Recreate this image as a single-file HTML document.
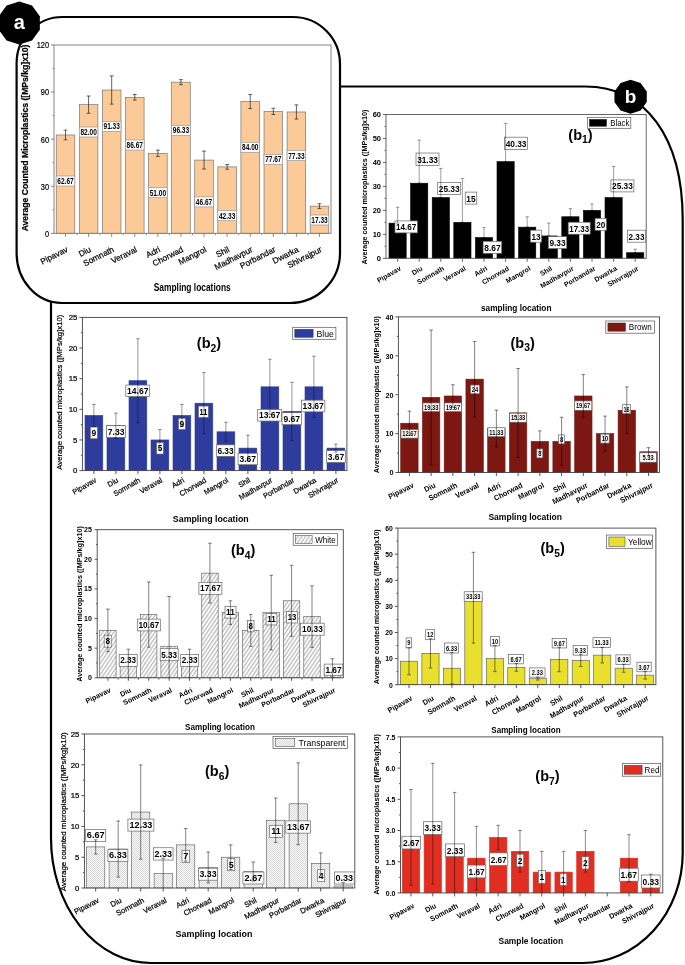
<!DOCTYPE html>
<html lang="en"><head><meta charset="utf-8"><title>Microplastics by sampling location</title>
<style>html,body{margin:0;padding:0;background:#fff}svg{display:block}text{font-family:"Liberation Sans",sans-serif}</style>
</head><body>
<svg width="685" height="965" viewBox="0 0 685 965" font-family="'Liberation Sans', sans-serif">
<defs>
<pattern id="hatch" patternUnits="userSpaceOnUse" width="3.1" height="3.1" patternTransform="rotate(-56)"><rect width="3.1" height="3.1" fill="#fff"/><path d="M0 1.5H3.1" stroke="#707070" stroke-width="0.6"/></pattern>
<pattern id="dots" patternUnits="userSpaceOnUse" width="2" height="2"><rect width="2" height="2" fill="#f8f8f8"/><rect width="1" height="1" fill="#dadada"/><rect x="1" y="1" width="1" height="1" fill="#dadada"/></pattern>
</defs>
<rect width="685" height="965" fill="#fff"/>
<path d="M340 86.5H585C645.5 86.5 682.7 137.2 682.7 220V853A100 110 0 0 1 582.7 963H151A100 125 0 0 1 51 838V302" fill="none" stroke="#000" stroke-width="2.2"/>
<path d="M62.6 17H293A47 47 0 0 1 340 64V253A50 50 0 0 1 290 303H61.6A45 50 0 0 1 16.6 253V63A46 46 0 0 1 62.6 17Z" fill="#fff" stroke="#000" stroke-width="2.2"/>
<g id="pa">
<clipPath id="clip-pa"><rect x="54" y="45" width="277" height="188.8"/></clipPath>
<g clip-path="url(#clip-pa)">
<rect x="56.20" y="134.96" width="18.60" height="98.34" fill="#fbca98" stroke="#666" stroke-width="0.6"/>
<rect x="79.29" y="104.63" width="18.60" height="128.67" fill="#fbca98" stroke="#666" stroke-width="0.6"/>
<rect x="102.38" y="89.99" width="18.60" height="143.31" fill="#fbca98" stroke="#666" stroke-width="0.6"/>
<rect x="125.47" y="97.30" width="18.60" height="136.00" fill="#fbca98" stroke="#666" stroke-width="0.6"/>
<rect x="148.56" y="153.27" width="18.60" height="80.03" fill="#fbca98" stroke="#666" stroke-width="0.6"/>
<rect x="171.65" y="82.14" width="18.60" height="151.16" fill="#fbca98" stroke="#666" stroke-width="0.6"/>
<rect x="194.74" y="160.07" width="18.60" height="73.23" fill="#fbca98" stroke="#666" stroke-width="0.6"/>
<rect x="217.83" y="166.88" width="18.60" height="66.42" fill="#fbca98" stroke="#666" stroke-width="0.6"/>
<rect x="240.92" y="101.49" width="18.60" height="131.81" fill="#fbca98" stroke="#666" stroke-width="0.6"/>
<rect x="264.01" y="111.42" width="18.60" height="121.88" fill="#fbca98" stroke="#666" stroke-width="0.6"/>
<rect x="287.10" y="111.96" width="18.60" height="121.34" fill="#fbca98" stroke="#666" stroke-width="0.6"/>
<rect x="310.19" y="206.11" width="18.60" height="27.19" fill="#fbca98" stroke="#666" stroke-width="0.6"/>
</g>
<rect x="54" y="45" width="277" height="188.3" fill="none" stroke="#777" stroke-width="0.9"/>
<path d="M51 233.30h3M51 186.23h3M51 139.15h3M51 92.07h3M51 45.00h3M52.5 209.76h1.5M52.5 162.69h1.5M52.5 115.61h1.5M52.5 68.54h1.5M65.50 233.3v3.5M88.59 233.3v3.5M111.68 233.3v3.5M134.77 233.3v3.5M157.86 233.3v3.5M180.95 233.3v3.5M204.04 233.3v3.5M227.13 233.3v3.5M250.22 233.3v3.5M273.31 233.3v3.5M296.40 233.3v3.5M319.49 233.3v3.5M77.05 233.3v1.8M100.13 233.3v1.8M123.22 233.3v1.8M146.31 233.3v1.8M169.41 233.3v1.8M192.50 233.3v1.8M215.59 233.3v1.8M238.68 233.3v1.8M261.76 233.3v1.8M284.86 233.3v1.8M307.94 233.3v1.8" stroke="#777" stroke-width="0.9" fill="none"/>
<text transform="translate(49.00 236.72) scale(0.7800 1)" font-size="9.5" text-anchor="end" stroke="#000" stroke-width="0.22">0</text>
<text transform="translate(49.00 189.65) scale(0.7800 1)" font-size="9.5" text-anchor="end" stroke="#000" stroke-width="0.22">30</text>
<text transform="translate(49.00 142.57) scale(0.7800 1)" font-size="9.5" text-anchor="end" stroke="#000" stroke-width="0.22">60</text>
<text transform="translate(49.00 95.49) scale(0.7800 1)" font-size="9.5" text-anchor="end" stroke="#000" stroke-width="0.22">90</text>
<text transform="translate(49.00 48.42) scale(0.7800 1)" font-size="9.5" text-anchor="end" stroke="#000" stroke-width="0.22">120</text>
<text transform="translate(68.50 251.30) rotate(-27)" font-size="8.3" text-anchor="end" stroke="#000" stroke-width="0.22">Pipavav</text>
<text transform="translate(91.59 251.30) rotate(-27)" font-size="8.3" text-anchor="end" stroke="#000" stroke-width="0.22">Diu</text>
<text transform="translate(114.68 251.30) rotate(-27)" font-size="8.3" text-anchor="end" stroke="#000" stroke-width="0.22">Somnath</text>
<text transform="translate(137.77 251.30) rotate(-27)" font-size="8.3" text-anchor="end" stroke="#000" stroke-width="0.22">Veraval</text>
<text transform="translate(160.86 251.30) rotate(-27)" font-size="8.3" text-anchor="end" stroke="#000" stroke-width="0.22">Adri</text>
<text transform="translate(183.95 251.30) rotate(-27)" font-size="8.3" text-anchor="end" stroke="#000" stroke-width="0.22">Chorwad</text>
<text transform="translate(207.04 251.30) rotate(-27)" font-size="8.3" text-anchor="end" stroke="#000" stroke-width="0.22">Mangrol</text>
<text transform="translate(230.13 251.30) rotate(-27)" font-size="8.3" text-anchor="end" stroke="#000" stroke-width="0.22">Shil</text>
<text transform="translate(253.22 251.30) rotate(-27)" font-size="8.3" text-anchor="end" stroke="#000" stroke-width="0.22">Madhavpur</text>
<text transform="translate(276.31 251.30) rotate(-27)" font-size="8.3" text-anchor="end" stroke="#000" stroke-width="0.22">Porbandar</text>
<text transform="translate(299.40 251.30) rotate(-27)" font-size="8.3" text-anchor="end" stroke="#000" stroke-width="0.22">Dwarka</text>
<text transform="translate(322.49 251.30) rotate(-27)" font-size="8.3" text-anchor="end" stroke="#000" stroke-width="0.22">Shivrajpur</text>
<rect x="56.20" y="176.00" width="18.60" height="10.00" fill="#fff" stroke="#999" stroke-width="0.7"/>
<text transform="translate(65.50 183.95) scale(0.7993 1)" font-size="8.2" font-weight="bold" text-anchor="middle">62.67</text>
<rect x="79.29" y="127.00" width="18.60" height="10.00" fill="#fff" stroke="#999" stroke-width="0.7"/>
<text transform="translate(88.59 134.95) scale(0.7993 1)" font-size="8.2" font-weight="bold" text-anchor="middle">82.00</text>
<rect x="102.38" y="121.50" width="18.60" height="10.00" fill="#fff" stroke="#999" stroke-width="0.7"/>
<text transform="translate(111.68 129.45) scale(0.7993 1)" font-size="8.2" font-weight="bold" text-anchor="middle">91.33</text>
<rect x="125.47" y="140.00" width="18.60" height="10.00" fill="#fff" stroke="#999" stroke-width="0.7"/>
<text transform="translate(134.77 147.95) scale(0.7993 1)" font-size="8.2" font-weight="bold" text-anchor="middle">86.67</text>
<rect x="148.56" y="187.70" width="18.60" height="10.00" fill="#fff" stroke="#999" stroke-width="0.7"/>
<text transform="translate(157.86 195.65) scale(0.7993 1)" font-size="8.2" font-weight="bold" text-anchor="middle">51.00</text>
<rect x="171.65" y="125.50" width="18.60" height="10.00" fill="#fff" stroke="#999" stroke-width="0.7"/>
<text transform="translate(180.95 133.45) scale(0.7993 1)" font-size="8.2" font-weight="bold" text-anchor="middle">96.33</text>
<rect x="194.74" y="196.90" width="18.60" height="10.00" fill="#fff" stroke="#999" stroke-width="0.7"/>
<text transform="translate(204.04 204.85) scale(0.7993 1)" font-size="8.2" font-weight="bold" text-anchor="middle">46.67</text>
<rect x="217.83" y="210.70" width="18.60" height="10.00" fill="#fff" stroke="#999" stroke-width="0.7"/>
<text transform="translate(227.13 218.65) scale(0.7993 1)" font-size="8.2" font-weight="bold" text-anchor="middle">42.33</text>
<rect x="240.92" y="142.40" width="18.60" height="10.00" fill="#fff" stroke="#999" stroke-width="0.7"/>
<text transform="translate(250.22 150.35) scale(0.7993 1)" font-size="8.2" font-weight="bold" text-anchor="middle">84.00</text>
<rect x="264.01" y="154.50" width="18.60" height="10.00" fill="#fff" stroke="#999" stroke-width="0.7"/>
<text transform="translate(273.31 162.45) scale(0.7993 1)" font-size="8.2" font-weight="bold" text-anchor="middle">77.67</text>
<rect x="287.10" y="150.60" width="18.60" height="10.00" fill="#fff" stroke="#999" stroke-width="0.7"/>
<text transform="translate(296.40 158.55) scale(0.7993 1)" font-size="8.2" font-weight="bold" text-anchor="middle">77.33</text>
<rect x="310.19" y="215.00" width="18.60" height="10.00" fill="#fff" stroke="#999" stroke-width="0.7"/>
<text transform="translate(319.49 222.95) scale(0.7993 1)" font-size="8.2" font-weight="bold" text-anchor="middle">17.33</text>
<g clip-path="url(#clip-pa)">
<path d="M65.50 130.10V139.82M63.60 130.10h3.8M63.60 139.82h3.8" stroke="#222" stroke-width="0.7" fill="none"/>
<path d="M88.59 96.00V113.26M86.69 96.00h3.8M86.69 113.26h3.8" stroke="#222" stroke-width="0.7" fill="none"/>
<path d="M111.68 75.87V104.11M109.78 75.87h3.8M109.78 104.11h3.8" stroke="#222" stroke-width="0.7" fill="none"/>
<path d="M134.77 94.48V100.12M132.87 94.48h3.8M132.87 100.12h3.8" stroke="#222" stroke-width="0.7" fill="none"/>
<path d="M157.86 150.13V156.41M155.96 150.13h3.8M155.96 156.41h3.8" stroke="#222" stroke-width="0.7" fill="none"/>
<path d="M180.95 79.63V84.65M179.05 79.63h3.8M179.05 84.65h3.8" stroke="#222" stroke-width="0.7" fill="none"/>
<path d="M204.04 151.12V169.01M202.14 151.12h3.8M202.14 169.01h3.8" stroke="#222" stroke-width="0.7" fill="none"/>
<path d="M227.13 164.52V169.23M225.23 164.52h3.8M225.23 169.23h3.8" stroke="#222" stroke-width="0.7" fill="none"/>
<path d="M250.22 94.43V108.55M248.32 94.43h3.8M248.32 108.55h3.8" stroke="#222" stroke-width="0.7" fill="none"/>
<path d="M273.31 108.28V114.56M271.41 108.28h3.8M271.41 114.56h3.8" stroke="#222" stroke-width="0.7" fill="none"/>
<path d="M296.40 104.90V119.02M294.50 104.90h3.8M294.50 119.02h3.8" stroke="#222" stroke-width="0.7" fill="none"/>
<path d="M319.49 203.75V208.46M317.59 203.75h3.8M317.59 208.46h3.8" stroke="#222" stroke-width="0.7" fill="none"/>
</g>
<text transform="translate(192.20 291.48) scale(0.7999 1)" font-size="10.5" font-weight="bold" text-anchor="middle">Sampling locations</text>
<text transform="translate(28.26 138.00) rotate(-90) scale(1.0143 1)" font-size="8.5" font-weight="bold" text-anchor="middle" stroke="#000" stroke-width="0.22">Average Counted Microplastics ([MPs/kg]x10)</text>
</g>
<g id="b1">
<clipPath id="clip-b1"><rect x="386" y="114.5" width="260.20000000000005" height="144.3"/></clipPath>
<g clip-path="url(#clip-b1)">
<rect x="389.00" y="223.14" width="17.20" height="35.16" fill="#000" stroke="#000" stroke-width="0.6"/>
<rect x="410.60" y="183.21" width="17.20" height="75.09" fill="#000" stroke="#000" stroke-width="0.6"/>
<rect x="432.20" y="197.59" width="17.20" height="60.71" fill="#000" stroke="#000" stroke-width="0.6"/>
<rect x="453.80" y="222.35" width="17.20" height="35.95" fill="#000" stroke="#000" stroke-width="0.6"/>
<rect x="475.40" y="237.52" width="17.20" height="20.78" fill="#000" stroke="#000" stroke-width="0.6"/>
<rect x="497.00" y="161.64" width="17.20" height="96.66" fill="#000" stroke="#000" stroke-width="0.6"/>
<rect x="518.60" y="227.14" width="17.20" height="31.16" fill="#000" stroke="#000" stroke-width="0.6"/>
<rect x="540.20" y="235.94" width="17.20" height="22.36" fill="#000" stroke="#000" stroke-width="0.6"/>
<rect x="561.80" y="216.77" width="17.20" height="41.53" fill="#000" stroke="#000" stroke-width="0.6"/>
<rect x="583.40" y="210.37" width="17.20" height="47.93" fill="#000" stroke="#000" stroke-width="0.6"/>
<rect x="605.00" y="197.59" width="17.20" height="60.71" fill="#000" stroke="#000" stroke-width="0.6"/>
<rect x="626.60" y="252.72" width="17.20" height="5.58" fill="#000" stroke="#000" stroke-width="0.6"/>
</g>
<rect x="386" y="114.5" width="260.20000000000005" height="143.8" fill="none" stroke="#555" stroke-width="0.9"/>
<path d="M383 258.30h3M383 234.33h3M383 210.37h3M383 186.40h3M383 162.43h3M383 138.47h3M383 114.50h3M384.5 246.32h1.5M384.5 222.35h1.5M384.5 198.38h1.5M384.5 174.42h1.5M384.5 150.45h1.5M384.5 126.48h1.5M397.60 258.3v3.5M419.20 258.3v3.5M440.80 258.3v3.5M462.40 258.3v3.5M484.00 258.3v3.5M505.60 258.3v3.5M527.20 258.3v3.5M548.80 258.3v3.5M570.40 258.3v3.5M592.00 258.3v3.5M613.60 258.3v3.5M635.20 258.3v3.5" stroke="#555" stroke-width="0.9" fill="none"/>
<text transform="translate(381.00 261.00)" font-size="7.5" font-weight="bold" text-anchor="end">0</text>
<text transform="translate(381.00 237.03)" font-size="7.5" font-weight="bold" text-anchor="end">10</text>
<text transform="translate(381.00 213.07)" font-size="7.5" font-weight="bold" text-anchor="end">20</text>
<text transform="translate(381.00 189.10)" font-size="7.5" font-weight="bold" text-anchor="end">30</text>
<text transform="translate(381.00 165.13)" font-size="7.5" font-weight="bold" text-anchor="end">40</text>
<text transform="translate(381.00 141.17)" font-size="7.5" font-weight="bold" text-anchor="end">50</text>
<text transform="translate(381.00 117.20)" font-size="7.5" font-weight="bold" text-anchor="end">60</text>
<text transform="translate(401.60 269.80) rotate(-30)" font-size="7.0" font-weight="bold" text-anchor="end">Pipavav</text>
<text transform="translate(423.20 269.80) rotate(-30)" font-size="7.0" font-weight="bold" text-anchor="end">Diu</text>
<text transform="translate(444.80 269.80) rotate(-30)" font-size="7.0" font-weight="bold" text-anchor="end">Somnath</text>
<text transform="translate(466.40 269.80) rotate(-30)" font-size="7.0" font-weight="bold" text-anchor="end">Veraval</text>
<text transform="translate(488.00 269.80) rotate(-30)" font-size="7.0" font-weight="bold" text-anchor="end">Adri</text>
<text transform="translate(509.60 269.80) rotate(-30)" font-size="7.0" font-weight="bold" text-anchor="end">Chorwad</text>
<text transform="translate(531.20 269.80) rotate(-30)" font-size="7.0" font-weight="bold" text-anchor="end">Mangrol</text>
<text transform="translate(552.80 269.80) rotate(-30)" font-size="7.0" font-weight="bold" text-anchor="end">Shil</text>
<text transform="translate(574.40 269.80) rotate(-30)" font-size="7.0" font-weight="bold" text-anchor="end">Madhavpur</text>
<text transform="translate(596.00 269.80) rotate(-30)" font-size="7.0" font-weight="bold" text-anchor="end">Porbandar</text>
<text transform="translate(617.60 269.80) rotate(-30)" font-size="7.0" font-weight="bold" text-anchor="end">Dwarka</text>
<text transform="translate(639.20 269.80) rotate(-30)" font-size="7.0" font-weight="bold" text-anchor="end">Shivrajpur</text>
<rect x="394.95" y="220.90" width="22.50" height="12.00" fill="#fff" stroke="#666" stroke-width="0.7"/>
<text transform="translate(406.20 230.32) scale(0.8540 1)" font-size="9.5" font-weight="bold" text-anchor="middle">14.67</text>
<rect x="416.00" y="153.05" width="23.00" height="12.30" fill="#fff" stroke="#666" stroke-width="0.7"/>
<text transform="translate(427.50 162.62) scale(0.8750 1)" font-size="9.5" font-weight="bold" text-anchor="middle">31.33</text>
<rect x="437.70" y="182.40" width="23.00" height="12.00" fill="#fff" stroke="#666" stroke-width="0.7"/>
<text transform="translate(449.20 191.82) scale(0.8750 1)" font-size="9.5" font-weight="bold" text-anchor="middle">25.33</text>
<rect x="465.25" y="192.10" width="11.50" height="12.00" fill="#fff" stroke="#666" stroke-width="0.7"/>
<text transform="translate(471.00 201.52) scale(0.8802 1)" font-size="9.5" font-weight="bold" text-anchor="middle">15</text>
<rect x="483.10" y="241.30" width="18.60" height="12.00" fill="#fff" stroke="#666" stroke-width="0.7"/>
<text transform="translate(492.40 250.72) scale(0.8871 1)" font-size="9.5" font-weight="bold" text-anchor="middle">8.67</text>
<rect x="504.60" y="137.20" width="23.00" height="12.20" fill="#fff" stroke="#666" stroke-width="0.7"/>
<text transform="translate(516.10 146.72) scale(0.8750 1)" font-size="9.5" font-weight="bold" text-anchor="middle">40.33</text>
<rect x="530.35" y="230.20" width="11.30" height="12.00" fill="#fff" stroke="#666" stroke-width="0.7"/>
<text transform="translate(536.00 239.62) scale(0.8613 1)" font-size="9.5" font-weight="bold" text-anchor="middle">13</text>
<rect x="548.30" y="236.60" width="18.40" height="12.00" fill="#fff" stroke="#666" stroke-width="0.7"/>
<text transform="translate(557.50 246.02) scale(0.8762 1)" font-size="9.5" font-weight="bold" text-anchor="middle">9.33</text>
<rect x="568.20" y="222.20" width="22.00" height="12.00" fill="#fff" stroke="#666" stroke-width="0.7"/>
<text transform="translate(579.20 231.62) scale(0.8330 1)" font-size="9.5" font-weight="bold" text-anchor="middle">17.33</text>
<rect x="595.05" y="218.30" width="11.30" height="12.00" fill="#fff" stroke="#666" stroke-width="0.7"/>
<text transform="translate(600.70 227.72) scale(0.8613 1)" font-size="9.5" font-weight="bold" text-anchor="middle">20</text>
<rect x="610.90" y="179.90" width="23.00" height="12.00" fill="#fff" stroke="#666" stroke-width="0.7"/>
<text transform="translate(622.40 189.32) scale(0.8750 1)" font-size="9.5" font-weight="bold" text-anchor="middle">25.33</text>
<rect x="627.50" y="230.20" width="18.00" height="12.00" fill="#fff" stroke="#666" stroke-width="0.7"/>
<text transform="translate(636.50 239.62) scale(0.8546 1)" font-size="9.5" font-weight="bold" text-anchor="middle">2.33</text>
<g clip-path="url(#clip-b1)">
<path d="M397.60 207.25V223.14M395.80 207.25h3.6M395.80 223.14h3.6" stroke="#000" stroke-width="0.7" fill="none" stroke-opacity="0.55"/>
<path d="M419.20 140.14V183.21M417.40 140.14h3.6M417.40 183.21h3.6" stroke="#000" stroke-width="0.7" fill="none" stroke-opacity="0.55"/>
<path d="M440.80 168.43V197.59M439.00 168.43h3.6M439.00 197.59h3.6" stroke="#000" stroke-width="0.7" fill="none" stroke-opacity="0.55"/>
<path d="M462.40 178.49V222.35M460.60 178.49h3.6M460.60 222.35h3.6" stroke="#000" stroke-width="0.7" fill="none" stroke-opacity="0.55"/>
<path d="M484.00 227.62V237.52M482.20 227.62h3.6M482.20 237.52h3.6" stroke="#000" stroke-width="0.7" fill="none" stroke-opacity="0.55"/>
<path d="M505.60 123.37V161.64M503.80 123.37h3.6M503.80 161.64h3.6" stroke="#000" stroke-width="0.7" fill="none" stroke-opacity="0.55"/>
<path d="M527.20 216.84V227.14M525.40 216.84h3.6M525.40 227.14h3.6" stroke="#000" stroke-width="0.7" fill="none" stroke-opacity="0.55"/>
<path d="M548.80 223.07V235.94M547.00 223.07h3.6M547.00 235.94h3.6" stroke="#000" stroke-width="0.7" fill="none" stroke-opacity="0.55"/>
<path d="M570.40 208.69V216.77M568.60 208.69h3.6M568.60 216.77h3.6" stroke="#000" stroke-width="0.7" fill="none" stroke-opacity="0.55"/>
<path d="M592.00 203.90V210.37M590.20 203.90h3.6M590.20 210.37h3.6" stroke="#000" stroke-width="0.7" fill="none" stroke-opacity="0.55"/>
<path d="M613.60 166.51V197.59M611.80 166.51h3.6M611.80 197.59h3.6" stroke="#000" stroke-width="0.7" fill="none" stroke-opacity="0.55"/>
<path d="M635.20 249.19V252.72M633.40 249.19h3.6M633.40 252.72h3.6" stroke="#000" stroke-width="0.7" fill="none" stroke-opacity="0.55"/>
</g>
<rect x="587.4" y="117.3" width="43.40" height="11.00" fill="#fff" stroke="#555" stroke-width="0.7"/>
<rect x="589.3" y="119.3" width="17.30" height="7.00" fill="#000" stroke="#333" stroke-width="0.5"/>
<text transform="translate(610.20 125.90) scale(0.9130 1)" font-size="8.6">Black</text>
<text x="568.3" y="139.5" font-size="14.5" font-weight="bold">(b<tspan font-size="10.3" dy="3.7">1</tspan><tspan dy="-3.7">)</tspan></text>
<text transform="translate(516.20 311.17) scale(0.9452 1)" font-size="8.8" font-weight="bold" text-anchor="middle">sampling location</text>
<text transform="translate(366.99 187.00) rotate(-90) scale(0.9976 1)" font-size="7.2" font-weight="bold" text-anchor="middle">Average counted microplastics ([MPs/kg]x10)</text>
</g>
<g id="b2">
<clipPath id="clip-b2"><rect x="82.4" y="317.4" width="264.5" height="153.70000000000005"/></clipPath>
<g clip-path="url(#clip-b2)">
<rect x="85.00" y="415.45" width="17.80" height="55.15" fill="#2e3c9e" stroke="#2e3c9e" stroke-width="0.6"/>
<rect x="107.00" y="425.68" width="17.80" height="44.92" fill="#2e3c9e" stroke="#2e3c9e" stroke-width="0.6"/>
<rect x="129.00" y="380.70" width="17.80" height="89.90" fill="#2e3c9e" stroke="#2e3c9e" stroke-width="0.6"/>
<rect x="151.00" y="439.96" width="17.80" height="30.64" fill="#2e3c9e" stroke="#2e3c9e" stroke-width="0.6"/>
<rect x="173.00" y="415.45" width="17.80" height="55.15" fill="#2e3c9e" stroke="#2e3c9e" stroke-width="0.6"/>
<rect x="195.00" y="403.19" width="17.80" height="67.41" fill="#2e3c9e" stroke="#2e3c9e" stroke-width="0.6"/>
<rect x="217.00" y="431.81" width="17.80" height="38.79" fill="#2e3c9e" stroke="#2e3c9e" stroke-width="0.6"/>
<rect x="239.00" y="448.11" width="17.80" height="22.49" fill="#2e3c9e" stroke="#2e3c9e" stroke-width="0.6"/>
<rect x="261.00" y="386.83" width="17.80" height="83.77" fill="#2e3c9e" stroke="#2e3c9e" stroke-width="0.6"/>
<rect x="283.00" y="411.34" width="17.80" height="59.26" fill="#2e3c9e" stroke="#2e3c9e" stroke-width="0.6"/>
<rect x="305.00" y="386.83" width="17.80" height="83.77" fill="#2e3c9e" stroke="#2e3c9e" stroke-width="0.6"/>
<rect x="327.00" y="448.11" width="17.80" height="22.49" fill="#2e3c9e" stroke="#2e3c9e" stroke-width="0.6"/>
</g>
<rect x="82.4" y="317.4" width="264.5" height="153.20000000000005" fill="none" stroke="#444" stroke-width="0.9"/>
<path d="M79.4 470.60h3M79.4 439.96h3M79.4 409.32h3M79.4 378.68h3M79.4 348.04h3M79.4 317.40h3M80.9 455.28h1.5M80.9 424.64h1.5M80.9 394.00h1.5M80.9 363.36h1.5M80.9 332.72h1.5M93.90 470.6v3.5M115.90 470.6v3.5M137.90 470.6v3.5M159.90 470.6v3.5M181.90 470.6v3.5M203.90 470.6v3.5M225.90 470.6v3.5M247.90 470.6v3.5M269.90 470.6v3.5M291.90 470.6v3.5M313.90 470.6v3.5M335.90 470.6v3.5" stroke="#444" stroke-width="0.9" fill="none"/>
<text transform="translate(77.40 473.41)" font-size="7.8" text-anchor="end" stroke="#000" stroke-width="0.22">0</text>
<text transform="translate(77.40 442.77)" font-size="7.8" text-anchor="end" stroke="#000" stroke-width="0.22">5</text>
<text transform="translate(77.40 412.13)" font-size="7.8" text-anchor="end" stroke="#000" stroke-width="0.22">10</text>
<text transform="translate(77.40 381.49)" font-size="7.8" text-anchor="end" stroke="#000" stroke-width="0.22">15</text>
<text transform="translate(77.40 350.85)" font-size="7.8" text-anchor="end" stroke="#000" stroke-width="0.22">20</text>
<text transform="translate(77.40 320.21)" font-size="7.8" text-anchor="end" stroke="#000" stroke-width="0.22">25</text>
<text transform="translate(96.90 481.60) rotate(-30)" font-size="7.4" text-anchor="end" stroke="#000" stroke-width="0.22">Pipavav</text>
<text transform="translate(118.90 481.60) rotate(-30)" font-size="7.4" text-anchor="end" stroke="#000" stroke-width="0.22">Diu</text>
<text transform="translate(140.90 481.60) rotate(-30)" font-size="7.4" text-anchor="end" stroke="#000" stroke-width="0.22">Somnath</text>
<text transform="translate(162.90 481.60) rotate(-30)" font-size="7.4" text-anchor="end" stroke="#000" stroke-width="0.22">Veraval</text>
<text transform="translate(184.90 481.60) rotate(-30)" font-size="7.4" text-anchor="end" stroke="#000" stroke-width="0.22">Adri</text>
<text transform="translate(206.90 481.60) rotate(-30)" font-size="7.4" text-anchor="end" stroke="#000" stroke-width="0.22">Chorwad</text>
<text transform="translate(228.90 481.60) rotate(-30)" font-size="7.4" text-anchor="end" stroke="#000" stroke-width="0.22">Mangrol</text>
<text transform="translate(250.90 481.60) rotate(-30)" font-size="7.4" text-anchor="end" stroke="#000" stroke-width="0.22">Shil</text>
<text transform="translate(272.90 481.60) rotate(-30)" font-size="7.4" text-anchor="end" stroke="#000" stroke-width="0.22">Madhavpur</text>
<text transform="translate(294.90 481.60) rotate(-30)" font-size="7.4" text-anchor="end" stroke="#000" stroke-width="0.22">Porbandar</text>
<text transform="translate(316.90 481.60) rotate(-30)" font-size="7.4" text-anchor="end" stroke="#000" stroke-width="0.22">Dwarka</text>
<text transform="translate(338.90 481.60) rotate(-30)" font-size="7.4" text-anchor="end" stroke="#000" stroke-width="0.22">Shivrajpur</text>
<rect x="90.30" y="427.05" width="7.20" height="11.70" fill="#fff" stroke="#666" stroke-width="0.7"/>
<text transform="translate(93.90 436.07) scale(0.9700 1)" font-size="8.8" font-weight="bold" text-anchor="middle">9</text>
<rect x="106.60" y="425.70" width="19.00" height="11.80" fill="#fff" stroke="#666" stroke-width="0.7"/>
<text transform="translate(116.10 434.77) scale(0.9700 1)" font-size="8.8" font-weight="bold" text-anchor="middle">7.33</text>
<rect x="125.80" y="385.05" width="23.80" height="11.50" fill="#fff" stroke="#666" stroke-width="0.7"/>
<text transform="translate(137.70 393.97) scale(0.9700 1)" font-size="8.8" font-weight="bold" text-anchor="middle">14.67</text>
<rect x="156.60" y="442.55" width="6.80" height="11.50" fill="#fff" stroke="#666" stroke-width="0.7"/>
<text transform="translate(160.00 451.47) scale(0.9400 1)" font-size="8.8" font-weight="bold" text-anchor="middle">5</text>
<rect x="178.40" y="418.25" width="7.00" height="11.30" fill="#fff" stroke="#666" stroke-width="0.7"/>
<text transform="translate(181.90 427.07) scale(0.9700 1)" font-size="8.8" font-weight="bold" text-anchor="middle">9</text>
<rect x="198.40" y="406.05" width="10.00" height="11.50" fill="#fff" stroke="#666" stroke-width="0.7"/>
<text transform="translate(203.40 414.97) scale(0.8385 1)" font-size="8.8" font-weight="bold" text-anchor="middle">11</text>
<rect x="216.30" y="444.85" width="18.40" height="11.50" fill="#fff" stroke="#666" stroke-width="0.7"/>
<text transform="translate(225.50 453.77) scale(0.9460 1)" font-size="8.8" font-weight="bold" text-anchor="middle">6.33</text>
<rect x="238.05" y="453.25" width="19.30" height="11.50" fill="#fff" stroke="#666" stroke-width="0.7"/>
<text transform="translate(247.70 462.17) scale(0.9700 1)" font-size="8.8" font-weight="bold" text-anchor="middle">3.67</text>
<rect x="257.70" y="409.35" width="23.80" height="11.70" fill="#fff" stroke="#666" stroke-width="0.7"/>
<text transform="translate(269.60 418.37) scale(0.9700 1)" font-size="8.8" font-weight="bold" text-anchor="middle">13.67</text>
<rect x="282.00" y="412.70" width="19.40" height="12.00" fill="#fff" stroke="#666" stroke-width="0.7"/>
<text transform="translate(291.70 421.87) scale(0.9700 1)" font-size="8.8" font-weight="bold" text-anchor="middle">9.67</text>
<rect x="301.35" y="400.15" width="23.50" height="11.70" fill="#fff" stroke="#666" stroke-width="0.7"/>
<text transform="translate(313.10 409.17) scale(0.9673 1)" font-size="8.8" font-weight="bold" text-anchor="middle">13.67</text>
<rect x="326.70" y="450.50" width="18.60" height="12.00" fill="#fff" stroke="#666" stroke-width="0.7"/>
<text transform="translate(336.00 459.67) scale(0.9576 1)" font-size="8.8" font-weight="bold" text-anchor="middle">3.67</text>
<g clip-path="url(#clip-b2)">
<path d="M93.90 404.42V426.48M92.10 404.42h3.6M92.10 426.48h3.6" stroke="#000" stroke-width="0.7" fill="none" stroke-opacity="0.6"/>
<path d="M115.90 413.12V438.24M114.10 413.12h3.6M114.10 438.24h3.6" stroke="#000" stroke-width="0.7" fill="none" stroke-opacity="0.6"/>
<path d="M137.90 338.73V422.68M136.10 338.73h3.6M136.10 422.68h3.6" stroke="#000" stroke-width="0.7" fill="none" stroke-opacity="0.6"/>
<path d="M159.90 429.54V450.38M158.10 429.54h3.6M158.10 450.38h3.6" stroke="#000" stroke-width="0.7" fill="none" stroke-opacity="0.6"/>
<path d="M181.90 404.42V426.48M180.10 404.42h3.6M180.10 426.48h3.6" stroke="#000" stroke-width="0.7" fill="none" stroke-opacity="0.6"/>
<path d="M203.90 372.55V433.83M202.10 372.55h3.6M202.10 433.83h3.6" stroke="#000" stroke-width="0.7" fill="none" stroke-opacity="0.6"/>
<path d="M225.90 422.31V441.31M224.10 422.31h3.6M224.10 441.31h3.6" stroke="#000" stroke-width="0.7" fill="none" stroke-opacity="0.6"/>
<path d="M247.90 435.24V460.98M246.10 435.24h3.6M246.10 460.98h3.6" stroke="#000" stroke-width="0.7" fill="none" stroke-opacity="0.6"/>
<path d="M269.90 359.25V414.41M268.10 359.25h3.6M268.10 414.41h3.6" stroke="#000" stroke-width="0.7" fill="none" stroke-opacity="0.6"/>
<path d="M291.90 382.23V440.45M290.10 382.23h3.6M290.10 440.45h3.6" stroke="#000" stroke-width="0.7" fill="none" stroke-opacity="0.6"/>
<path d="M313.90 356.19V417.47M312.10 356.19h3.6M312.10 417.47h3.6" stroke="#000" stroke-width="0.7" fill="none" stroke-opacity="0.6"/>
<path d="M335.90 444.13V452.09M334.10 444.13h3.6M334.10 452.09h3.6" stroke="#000" stroke-width="0.7" fill="none" stroke-opacity="0.6"/>
</g>
<rect x="292.7" y="327.3" width="43.20" height="12.00" fill="#fff" stroke="#555" stroke-width="0.7"/>
<rect x="294.8" y="329.3" width="18.30" height="8.00" fill="#2e3c9e" stroke="#333" stroke-width="0.5"/>
<text transform="translate(316.50 336.61) scale(0.9450 1)" font-size="9.2">Blue</text>
<text x="196.8" y="348.3" font-size="14.5" font-weight="bold">(b<tspan font-size="10.3" dy="3.7">2</tspan><tspan dy="-3.7">)</tspan></text>
<text transform="translate(210.80 522.12) scale(0.9290 1)" font-size="9.5" font-weight="bold" text-anchor="middle">Sampling location</text>
<text transform="translate(61.94 392.20) rotate(-90) scale(1.0208 1)" font-size="7.6" text-anchor="middle" stroke="#000" stroke-width="0.22">Average counted microplastics ([MPs/kg]x10)</text>
</g>
<g id="b3">
<clipPath id="clip-b3"><rect x="398.4" y="316.9" width="261.1" height="156.10000000000002"/></clipPath>
<g clip-path="url(#clip-b3)">
<rect x="400.70" y="423.21" width="17.40" height="49.29" fill="#7c1712" stroke="#7c1712" stroke-width="0.6"/>
<rect x="422.44" y="397.31" width="17.40" height="75.19" fill="#7c1712" stroke="#7c1712" stroke-width="0.6"/>
<rect x="444.18" y="395.98" width="17.40" height="76.52" fill="#7c1712" stroke="#7c1712" stroke-width="0.6"/>
<rect x="465.92" y="379.14" width="17.40" height="93.36" fill="#7c1712" stroke="#7c1712" stroke-width="0.6"/>
<rect x="487.66" y="428.43" width="17.40" height="44.07" fill="#7c1712" stroke="#7c1712" stroke-width="0.6"/>
<rect x="509.40" y="412.87" width="17.40" height="59.63" fill="#7c1712" stroke="#7c1712" stroke-width="0.6"/>
<rect x="531.14" y="441.38" width="17.40" height="31.12" fill="#7c1712" stroke="#7c1712" stroke-width="0.6"/>
<rect x="552.88" y="441.38" width="17.40" height="31.12" fill="#7c1712" stroke="#7c1712" stroke-width="0.6"/>
<rect x="574.62" y="395.98" width="17.40" height="76.52" fill="#7c1712" stroke="#7c1712" stroke-width="0.6"/>
<rect x="596.36" y="433.60" width="17.40" height="38.90" fill="#7c1712" stroke="#7c1712" stroke-width="0.6"/>
<rect x="618.10" y="410.26" width="17.40" height="62.24" fill="#7c1712" stroke="#7c1712" stroke-width="0.6"/>
<rect x="639.84" y="451.77" width="17.40" height="20.73" fill="#7c1712" stroke="#7c1712" stroke-width="0.6"/>
</g>
<rect x="398.4" y="316.9" width="261.1" height="155.60000000000002" fill="none" stroke="#444" stroke-width="0.9"/>
<path d="M395.4 472.50h3M395.4 433.60h3M395.4 394.70h3M395.4 355.80h3M395.4 316.90h3M396.9 453.05h1.5M396.9 414.15h1.5M396.9 375.25h1.5M396.9 336.35h1.5M409.40 472.5v3.5M431.14 472.5v3.5M452.88 472.5v3.5M474.62 472.5v3.5M496.36 472.5v3.5M518.10 472.5v3.5M539.84 472.5v3.5M561.58 472.5v3.5M583.32 472.5v3.5M605.06 472.5v3.5M626.80 472.5v3.5M648.54 472.5v3.5" stroke="#444" stroke-width="0.9" fill="none"/>
<text transform="translate(393.40 475.38) scale(0.9000 1)" font-size="8" font-weight="bold" text-anchor="end">0</text>
<text transform="translate(393.40 436.48) scale(0.9000 1)" font-size="8" font-weight="bold" text-anchor="end">10</text>
<text transform="translate(393.40 397.58) scale(0.9000 1)" font-size="8" font-weight="bold" text-anchor="end">20</text>
<text transform="translate(393.40 358.68) scale(0.9000 1)" font-size="8" font-weight="bold" text-anchor="end">30</text>
<text transform="translate(393.40 319.78) scale(0.9000 1)" font-size="8" font-weight="bold" text-anchor="end">40</text>
<text transform="translate(414.40 487.00) rotate(-27) scale(0.9400 1)" font-size="7.7" font-weight="bold" text-anchor="end">Pipavav</text>
<text transform="translate(436.14 487.00) rotate(-27) scale(0.9400 1)" font-size="7.7" font-weight="bold" text-anchor="end">Diu</text>
<text transform="translate(457.88 487.00) rotate(-27) scale(0.9400 1)" font-size="7.7" font-weight="bold" text-anchor="end">Somnath</text>
<text transform="translate(479.62 487.00) rotate(-27) scale(0.9400 1)" font-size="7.7" font-weight="bold" text-anchor="end">Veraval</text>
<text transform="translate(501.36 487.00) rotate(-27) scale(0.9400 1)" font-size="7.7" font-weight="bold" text-anchor="end">Adri</text>
<text transform="translate(523.10 487.00) rotate(-27) scale(0.9400 1)" font-size="7.7" font-weight="bold" text-anchor="end">Chorwad</text>
<text transform="translate(544.84 487.00) rotate(-27) scale(0.9400 1)" font-size="7.7" font-weight="bold" text-anchor="end">Mangrol</text>
<text transform="translate(566.58 487.00) rotate(-27) scale(0.9400 1)" font-size="7.7" font-weight="bold" text-anchor="end">Shil</text>
<text transform="translate(588.32 487.00) rotate(-27) scale(0.9400 1)" font-size="7.7" font-weight="bold" text-anchor="end">Madhavpur</text>
<text transform="translate(610.06 487.00) rotate(-27) scale(0.9400 1)" font-size="7.7" font-weight="bold" text-anchor="end">Porbandar</text>
<text transform="translate(631.80 487.00) rotate(-27) scale(0.9400 1)" font-size="7.7" font-weight="bold" text-anchor="end">Dwarka</text>
<text transform="translate(653.54 487.00) rotate(-27) scale(0.9400 1)" font-size="7.7" font-weight="bold" text-anchor="end">Shivrajpur</text>
<rect x="401.00" y="429.50" width="17.00" height="8.60" fill="#fff" stroke="#666" stroke-width="0.7"/>
<text transform="translate(409.50 436.25) scale(0.8500 1)" font-size="6.8" font-weight="bold" text-anchor="middle">12.67</text>
<rect x="422.90" y="402.95" width="16.80" height="8.70" fill="#fff" stroke="#666" stroke-width="0.7"/>
<text transform="translate(431.30 409.75) scale(0.8500 1)" font-size="6.8" font-weight="bold" text-anchor="middle">19.33</text>
<rect x="444.50" y="402.95" width="17.00" height="8.70" fill="#fff" stroke="#666" stroke-width="0.7"/>
<text transform="translate(453.00 409.75) scale(0.8500 1)" font-size="6.8" font-weight="bold" text-anchor="middle">19.67</text>
<rect x="470.50" y="385.05" width="9.00" height="8.70" fill="#fff" stroke="#666" stroke-width="0.7"/>
<text transform="translate(475.00 391.85) scale(0.8500 1)" font-size="6.8" font-weight="bold" text-anchor="middle">24</text>
<rect x="487.90" y="427.70" width="17.00" height="9.00" fill="#fff" stroke="#666" stroke-width="0.7"/>
<text transform="translate(496.40 434.65) scale(0.8500 1)" font-size="6.8" font-weight="bold" text-anchor="middle">11.33</text>
<rect x="509.60" y="413.20" width="17.00" height="9.00" fill="#fff" stroke="#666" stroke-width="0.7"/>
<text transform="translate(518.10 420.15) scale(0.8500 1)" font-size="6.8" font-weight="bold" text-anchor="middle">15.33</text>
<rect x="536.80" y="448.90" width="6.00" height="9.00" fill="#fff" stroke="#666" stroke-width="0.7"/>
<text transform="translate(539.80 455.85) scale(0.8500 1)" font-size="6.8" font-weight="bold" text-anchor="middle">8</text>
<rect x="558.50" y="434.90" width="6.00" height="9.00" fill="#fff" stroke="#666" stroke-width="0.7"/>
<text transform="translate(561.50 441.85) scale(0.8500 1)" font-size="6.8" font-weight="bold" text-anchor="middle">8</text>
<rect x="574.40" y="400.95" width="17.40" height="9.30" fill="#fff" stroke="#666" stroke-width="0.7"/>
<text transform="translate(583.10 408.05) scale(0.8500 1)" font-size="6.8" font-weight="bold" text-anchor="middle">19.67</text>
<rect x="600.60" y="434.10" width="8.60" height="9.00" fill="#fff" stroke="#666" stroke-width="0.7"/>
<text transform="translate(604.90 441.05) scale(0.8462 1)" font-size="6.8" font-weight="bold" text-anchor="middle">10</text>
<rect x="622.30" y="404.70" width="8.40" height="9.00" fill="#fff" stroke="#666" stroke-width="0.7"/>
<text transform="translate(626.50 411.65) scale(0.8198 1)" font-size="6.8" font-weight="bold" text-anchor="middle">16</text>
<rect x="639.80" y="452.80" width="16.60" height="9.40" fill="#fff" stroke="#666" stroke-width="0.7"/>
<text transform="translate(648.10 459.95) scale(0.8500 1)" font-size="6.8" font-weight="bold" text-anchor="middle">5.33</text>
<g clip-path="url(#clip-b3)">
<path d="M409.40 411.15V435.27M407.60 411.15h3.6M407.60 435.27h3.6" stroke="#000" stroke-width="0.7" fill="none" stroke-opacity="0.7"/>
<path d="M431.14 330.01V464.60M429.34 330.01h3.6M429.34 464.60h3.6" stroke="#000" stroke-width="0.7" fill="none" stroke-opacity="0.7"/>
<path d="M452.88 384.70V407.26M451.08 384.70h3.6M451.08 407.26h3.6" stroke="#000" stroke-width="0.7" fill="none" stroke-opacity="0.7"/>
<path d="M474.62 341.41V416.87M472.82 341.41h3.6M472.82 416.87h3.6" stroke="#000" stroke-width="0.7" fill="none" stroke-opacity="0.7"/>
<path d="M496.36 410.14V446.71M494.56 410.14h3.6M494.56 446.71h3.6" stroke="#000" stroke-width="0.7" fill="none" stroke-opacity="0.7"/>
<path d="M518.10 368.52V457.21M516.30 368.52h3.6M516.30 457.21h3.6" stroke="#000" stroke-width="0.7" fill="none" stroke-opacity="0.7"/>
<path d="M539.84 430.88V451.88M538.04 430.88h3.6M538.04 451.88h3.6" stroke="#000" stroke-width="0.7" fill="none" stroke-opacity="0.7"/>
<path d="M561.58 417.26V465.50M559.78 417.26h3.6M559.78 465.50h3.6" stroke="#000" stroke-width="0.7" fill="none" stroke-opacity="0.7"/>
<path d="M583.32 374.59V417.38M581.52 374.59h3.6M581.52 417.38h3.6" stroke="#000" stroke-width="0.7" fill="none" stroke-opacity="0.7"/>
<path d="M605.06 416.09V451.11M603.26 416.09h3.6M603.26 451.11h3.6" stroke="#000" stroke-width="0.7" fill="none" stroke-opacity="0.7"/>
<path d="M626.80 386.92V433.60M625.00 386.92h3.6M625.00 433.60h3.6" stroke="#000" stroke-width="0.7" fill="none" stroke-opacity="0.7"/>
<path d="M648.54 447.68V455.85M646.74 447.68h3.6M646.74 455.85h3.6" stroke="#000" stroke-width="0.7" fill="none" stroke-opacity="0.7"/>
</g>
<rect x="605.8" y="321" width="48.60" height="12.20" fill="#fff" stroke="#555" stroke-width="0.7"/>
<rect x="607.9" y="323" width="17.60" height="8.20" fill="#7c1712" stroke="#333" stroke-width="0.5"/>
<text transform="translate(628.80 330.34) scale(0.9016 1)" font-size="9">Brown</text>
<text x="510.5" y="347.5" font-size="14.5" font-weight="bold">(b<tspan font-size="10.3" dy="3.7">3</tspan><tspan dy="-3.7">)</tspan></text>
<text transform="translate(525.20 520.22) scale(0.9009 1)" font-size="9.5" font-weight="bold" text-anchor="middle">Sampling location</text>
<text transform="translate(378.64 394.60) rotate(-90) scale(0.9604 1)" font-size="7.6" font-weight="bold" text-anchor="middle">Average counted microplastics ([MPs/kg]x10)</text>
</g>
<g id="b4">
<clipPath id="clip-b4"><rect x="97.2" y="529.7" width="246.10000000000002" height="148.5999999999999"/></clipPath>
<g clip-path="url(#clip-b4)">
<rect x="99.70" y="630.41" width="16.40" height="47.39" fill="url(#hatch)" stroke="#555" stroke-width="0.6"/>
<rect x="120.11" y="664.00" width="16.40" height="13.80" fill="url(#hatch)" stroke="#555" stroke-width="0.6"/>
<rect x="140.52" y="614.59" width="16.40" height="63.21" fill="url(#hatch)" stroke="#555" stroke-width="0.6"/>
<rect x="160.93" y="646.23" width="16.40" height="31.57" fill="url(#hatch)" stroke="#555" stroke-width="0.6"/>
<rect x="181.34" y="664.00" width="16.40" height="13.80" fill="url(#hatch)" stroke="#555" stroke-width="0.6"/>
<rect x="201.75" y="573.12" width="16.40" height="104.68" fill="url(#hatch)" stroke="#555" stroke-width="0.6"/>
<rect x="222.16" y="612.64" width="16.40" height="65.16" fill="url(#hatch)" stroke="#555" stroke-width="0.6"/>
<rect x="242.57" y="630.41" width="16.40" height="47.39" fill="url(#hatch)" stroke="#555" stroke-width="0.6"/>
<rect x="262.98" y="612.64" width="16.40" height="65.16" fill="url(#hatch)" stroke="#555" stroke-width="0.6"/>
<rect x="283.39" y="600.79" width="16.40" height="77.01" fill="url(#hatch)" stroke="#555" stroke-width="0.6"/>
<rect x="303.80" y="616.61" width="16.40" height="61.19" fill="url(#hatch)" stroke="#555" stroke-width="0.6"/>
<rect x="324.21" y="667.91" width="16.40" height="9.89" fill="url(#hatch)" stroke="#555" stroke-width="0.6"/>
</g>
<rect x="97.2" y="529.7" width="246.10000000000002" height="148.0999999999999" fill="none" stroke="#444" stroke-width="0.9"/>
<path d="M94.7 677.80h2.5M94.7 648.18h2.5M94.7 618.56h2.5M94.7 588.94h2.5M94.7 559.32h2.5M94.7 529.70h2.5M95.95 662.99h1.25M95.95 633.37h1.25M95.95 603.75h1.25M95.95 574.13h1.25M95.95 544.51h1.25M107.90 677.8v3.0M128.31 677.8v3.0M148.72 677.8v3.0M169.13 677.8v3.0M189.54 677.8v3.0M209.95 677.8v3.0M230.36 677.8v3.0M250.77 677.8v3.0M271.18 677.8v3.0M291.59 677.8v3.0M312.00 677.8v3.0M332.41 677.8v3.0M118.11 677.8v1.8M138.52 677.8v1.8M158.93 677.8v1.8M179.34 677.8v1.8M199.75 677.8v1.8M220.16 677.8v1.8M240.56 677.8v1.8M260.98 677.8v1.8M281.38 677.8v1.8M301.80 677.8v1.8M322.21 677.8v1.8" stroke="#444" stroke-width="0.9" fill="none"/>
<text transform="translate(91.90 680.32)" font-size="7.0" font-weight="bold" text-anchor="end">0</text>
<text transform="translate(91.90 650.70)" font-size="7.0" font-weight="bold" text-anchor="end">5</text>
<text transform="translate(91.90 621.08)" font-size="7.0" font-weight="bold" text-anchor="end">10</text>
<text transform="translate(91.90 591.46)" font-size="7.0" font-weight="bold" text-anchor="end">15</text>
<text transform="translate(91.90 561.84)" font-size="7.0" font-weight="bold" text-anchor="end">20</text>
<text transform="translate(91.90 532.22)" font-size="7.0" font-weight="bold" text-anchor="end">25</text>
<text transform="translate(111.40 691.80) rotate(-26)" font-size="7.2" font-weight="bold" text-anchor="end">Pipavav</text>
<text transform="translate(131.81 691.80) rotate(-26)" font-size="7.2" font-weight="bold" text-anchor="end">Diu</text>
<text transform="translate(152.22 691.80) rotate(-26)" font-size="7.2" font-weight="bold" text-anchor="end">Somnath</text>
<text transform="translate(172.63 691.80) rotate(-26)" font-size="7.2" font-weight="bold" text-anchor="end">Veraval</text>
<text transform="translate(193.04 691.80) rotate(-26)" font-size="7.2" font-weight="bold" text-anchor="end">Adri</text>
<text transform="translate(213.45 691.80) rotate(-26)" font-size="7.2" font-weight="bold" text-anchor="end">Chorwad</text>
<text transform="translate(233.86 691.80) rotate(-26)" font-size="7.2" font-weight="bold" text-anchor="end">Mangrol</text>
<text transform="translate(254.27 691.80) rotate(-26)" font-size="7.2" font-weight="bold" text-anchor="end">Shil</text>
<text transform="translate(274.68 691.80) rotate(-26)" font-size="7.2" font-weight="bold" text-anchor="end">Madhavpur</text>
<text transform="translate(295.09 691.80) rotate(-26)" font-size="7.2" font-weight="bold" text-anchor="end">Porbandar</text>
<text transform="translate(315.50 691.80) rotate(-26)" font-size="7.2" font-weight="bold" text-anchor="end">Dwarka</text>
<text transform="translate(335.91 691.80) rotate(-26)" font-size="7.2" font-weight="bold" text-anchor="end">Shivrajpur</text>
<rect x="104.20" y="635.20" width="7.00" height="12.00" fill="#fff" stroke="#666" stroke-width="0.7"/>
<text transform="translate(107.70 644.19)" font-size="8.3" font-weight="bold" text-anchor="middle">8</text>
<rect x="119.20" y="654.40" width="18.00" height="12.00" fill="#fff" stroke="#666" stroke-width="0.7"/>
<text transform="translate(128.20 663.39) scale(0.9782 1)" font-size="8.3" font-weight="bold" text-anchor="middle">2.33</text>
<rect x="137.30" y="619.10" width="23.00" height="11.80" fill="#fff" stroke="#666" stroke-width="0.7"/>
<text transform="translate(148.80 627.99)" font-size="8.3" font-weight="bold" text-anchor="middle">10.67</text>
<rect x="160.20" y="648.70" width="18.00" height="12.00" fill="#fff" stroke="#666" stroke-width="0.7"/>
<text transform="translate(169.20 657.69) scale(0.9782 1)" font-size="8.3" font-weight="bold" text-anchor="middle">5.33</text>
<rect x="180.70" y="654.40" width="18.00" height="12.00" fill="#fff" stroke="#666" stroke-width="0.7"/>
<text transform="translate(189.70 663.39) scale(0.9782 1)" font-size="8.3" font-weight="bold" text-anchor="middle">2.33</text>
<rect x="198.90" y="582.30" width="23.00" height="12.00" fill="#fff" stroke="#666" stroke-width="0.7"/>
<text transform="translate(210.40 591.29)" font-size="8.3" font-weight="bold" text-anchor="middle">17.67</text>
<rect x="225.00" y="606.30" width="11.00" height="11.80" fill="#fff" stroke="#666" stroke-width="0.7"/>
<text transform="translate(230.50 615.19)" font-size="8.3" font-weight="bold" text-anchor="middle">11</text>
<rect x="247.40" y="620.35" width="6.60" height="11.50" fill="#fff" stroke="#666" stroke-width="0.7"/>
<text transform="translate(250.70 629.09) scale(0.9533 1)" font-size="8.3" font-weight="bold" text-anchor="middle">8</text>
<rect x="266.10" y="613.45" width="10.80" height="11.50" fill="#fff" stroke="#666" stroke-width="0.7"/>
<text transform="translate(271.50 622.19) scale(0.9802 1)" font-size="8.3" font-weight="bold" text-anchor="middle">11</text>
<rect x="286.60" y="611.45" width="10.80" height="11.50" fill="#fff" stroke="#666" stroke-width="0.7"/>
<text transform="translate(292.00 620.19) scale(0.9316 1)" font-size="8.3" font-weight="bold" text-anchor="middle">13</text>
<rect x="300.65" y="623.20" width="23.50" height="12.00" fill="#fff" stroke="#666" stroke-width="0.7"/>
<text transform="translate(312.40 632.19)" font-size="8.3" font-weight="bold" text-anchor="middle">10.33</text>
<rect x="324.20" y="664.10" width="18.60" height="11.20" fill="#fff" stroke="#666" stroke-width="0.7"/>
<text transform="translate(333.50 672.69)" font-size="8.3" font-weight="bold" text-anchor="middle">1.67</text>
<g clip-path="url(#clip-b4)">
<path d="M107.90 609.08V651.73M106.10 609.08h3.6M106.10 651.73h3.6" stroke="#000" stroke-width="0.7" fill="none" stroke-opacity="0.7"/>
<path d="M128.31 649.19V677.80M126.51 649.19h3.6" stroke="#000" stroke-width="0.7" fill="none" stroke-opacity="0.7"/>
<path d="M148.72 582.01V647.17M146.92 582.01h3.6M146.92 647.17h3.6" stroke="#000" stroke-width="0.7" fill="none" stroke-opacity="0.7"/>
<path d="M169.13 596.46V677.80M167.33 596.46h3.6" stroke="#000" stroke-width="0.7" fill="none" stroke-opacity="0.7"/>
<path d="M189.54 649.19V677.80M187.74 649.19h3.6" stroke="#000" stroke-width="0.7" fill="none" stroke-opacity="0.7"/>
<path d="M209.95 543.21V603.04M208.15 543.21h3.6M208.15 603.04h3.6" stroke="#000" stroke-width="0.7" fill="none" stroke-opacity="0.7"/>
<path d="M230.36 600.79V624.48M228.56 600.79h3.6M228.56 624.48h3.6" stroke="#000" stroke-width="0.7" fill="none" stroke-opacity="0.7"/>
<path d="M250.77 614.41V646.40M248.97 614.41h3.6M248.97 646.40h3.6" stroke="#000" stroke-width="0.7" fill="none" stroke-opacity="0.7"/>
<path d="M271.18 575.31V649.96M269.38 575.31h3.6M269.38 649.96h3.6" stroke="#000" stroke-width="0.7" fill="none" stroke-opacity="0.7"/>
<path d="M291.59 565.24V636.33M289.79 565.24h3.6M289.79 636.33h3.6" stroke="#000" stroke-width="0.7" fill="none" stroke-opacity="0.7"/>
<path d="M312.00 585.80V647.41M310.20 585.80h3.6M310.20 647.41h3.6" stroke="#000" stroke-width="0.7" fill="none" stroke-opacity="0.7"/>
<path d="M332.41 658.72V677.09M330.61 658.72h3.6M330.61 677.09h3.6" stroke="#000" stroke-width="0.7" fill="none" stroke-opacity="0.7"/>
</g>
<rect x="293.2" y="533.5" width="44.20" height="11.80" fill="#fff" stroke="#555" stroke-width="0.7"/>
<rect x="295.3" y="535.5" width="16.80" height="7.80" fill="url(#hatch)" stroke="#333" stroke-width="0.5"/>
<text transform="translate(315.20 542.57) scale(0.9069 1)" font-size="8.8">White</text>
<text x="231" y="555" font-size="14.5" font-weight="bold">(b<tspan font-size="10.3" dy="3.7">4</tspan><tspan dy="-3.7">)</tspan></text>
<text transform="translate(220.00 730.04) scale(0.9032 1)" font-size="9" font-weight="bold" text-anchor="middle">Sampling location</text>
<text transform="translate(82.26 604.00) rotate(-90) scale(0.9769 1)" font-size="7.4" font-weight="bold" text-anchor="middle">Average counted microplastics ([MPs/kg]x10)</text>
</g>
<g id="b5">
<clipPath id="clip-b5"><rect x="397.9" y="528.1" width="258.0" height="157.10000000000002"/></clipPath>
<g clip-path="url(#clip-b5)">
<rect x="400.40" y="661.21" width="17.20" height="23.49" fill="#e8e02c" stroke="#555" stroke-width="0.6"/>
<rect x="421.87" y="653.38" width="17.20" height="31.32" fill="#e8e02c" stroke="#555" stroke-width="0.6"/>
<rect x="443.34" y="668.18" width="17.20" height="16.52" fill="#e8e02c" stroke="#555" stroke-width="0.6"/>
<rect x="464.81" y="597.71" width="17.20" height="86.99" fill="#e8e02c" stroke="#555" stroke-width="0.6"/>
<rect x="486.28" y="658.60" width="17.20" height="26.10" fill="#e8e02c" stroke="#555" stroke-width="0.6"/>
<rect x="507.75" y="667.29" width="17.20" height="17.41" fill="#e8e02c" stroke="#555" stroke-width="0.6"/>
<rect x="529.22" y="678.62" width="17.20" height="6.08" fill="#e8e02c" stroke="#555" stroke-width="0.6"/>
<rect x="550.69" y="659.46" width="17.20" height="25.24" fill="#e8e02c" stroke="#555" stroke-width="0.6"/>
<rect x="572.16" y="660.35" width="17.20" height="24.35" fill="#e8e02c" stroke="#555" stroke-width="0.6"/>
<rect x="593.63" y="655.13" width="17.20" height="29.57" fill="#e8e02c" stroke="#555" stroke-width="0.6"/>
<rect x="615.10" y="668.18" width="17.20" height="16.52" fill="#e8e02c" stroke="#555" stroke-width="0.6"/>
<rect x="636.57" y="675.12" width="17.20" height="9.58" fill="#e8e02c" stroke="#555" stroke-width="0.6"/>
</g>
<rect x="397.9" y="528.1" width="258.0" height="156.60000000000002" fill="none" stroke="#444" stroke-width="0.9"/>
<path d="M394.9 684.70h3M394.9 658.60h3M394.9 632.50h3M394.9 606.40h3M394.9 580.30h3M394.9 554.20h3M394.9 528.10h3M396.4 671.65h1.5M396.4 645.55h1.5M396.4 619.45h1.5M396.4 593.35h1.5M396.4 567.25h1.5M396.4 541.15h1.5M409.00 684.7v3.5M430.47 684.7v3.5M451.94 684.7v3.5M473.41 684.7v3.5M494.88 684.7v3.5M516.35 684.7v3.5M537.82 684.7v3.5M559.29 684.7v3.5M580.76 684.7v3.5M602.23 684.7v3.5M623.70 684.7v3.5M645.17 684.7v3.5" stroke="#444" stroke-width="0.9" fill="none"/>
<text transform="translate(392.90 687.58) scale(0.8600 1)" font-size="8" font-weight="bold" text-anchor="end">0</text>
<text transform="translate(392.90 661.48) scale(0.8600 1)" font-size="8" font-weight="bold" text-anchor="end">10</text>
<text transform="translate(392.90 635.38) scale(0.8600 1)" font-size="8" font-weight="bold" text-anchor="end">20</text>
<text transform="translate(392.90 609.28) scale(0.8600 1)" font-size="8" font-weight="bold" text-anchor="end">30</text>
<text transform="translate(392.90 583.18) scale(0.8600 1)" font-size="8" font-weight="bold" text-anchor="end">40</text>
<text transform="translate(392.90 557.08) scale(0.8600 1)" font-size="8" font-weight="bold" text-anchor="end">50</text>
<text transform="translate(392.90 530.98) scale(0.8600 1)" font-size="8" font-weight="bold" text-anchor="end">60</text>
<text transform="translate(413.00 699.70) rotate(-30) scale(0.9300 1)" font-size="7.7" font-weight="bold" text-anchor="end">Pipavav</text>
<text transform="translate(434.47 699.70) rotate(-30) scale(0.9300 1)" font-size="7.7" font-weight="bold" text-anchor="end">Diu</text>
<text transform="translate(455.94 699.70) rotate(-30) scale(0.9300 1)" font-size="7.7" font-weight="bold" text-anchor="end">Somnath</text>
<text transform="translate(477.41 699.70) rotate(-30) scale(0.9300 1)" font-size="7.7" font-weight="bold" text-anchor="end">Veraval</text>
<text transform="translate(498.88 699.70) rotate(-30) scale(0.9300 1)" font-size="7.7" font-weight="bold" text-anchor="end">Adri</text>
<text transform="translate(520.35 699.70) rotate(-30) scale(0.9300 1)" font-size="7.7" font-weight="bold" text-anchor="end">Chorwad</text>
<text transform="translate(541.82 699.70) rotate(-30) scale(0.9300 1)" font-size="7.7" font-weight="bold" text-anchor="end">Mangrol</text>
<text transform="translate(563.29 699.70) rotate(-30) scale(0.9300 1)" font-size="7.7" font-weight="bold" text-anchor="end">Shil</text>
<text transform="translate(584.76 699.70) rotate(-30) scale(0.9300 1)" font-size="7.7" font-weight="bold" text-anchor="end">Madhavpur</text>
<text transform="translate(606.23 699.70) rotate(-30) scale(0.9300 1)" font-size="7.7" font-weight="bold" text-anchor="end">Porbandar</text>
<text transform="translate(627.70 699.70) rotate(-30) scale(0.9300 1)" font-size="7.7" font-weight="bold" text-anchor="end">Dwarka</text>
<text transform="translate(649.17 699.70) rotate(-30) scale(0.9300 1)" font-size="7.7" font-weight="bold" text-anchor="end">Shivrajpur</text>
<rect x="406.10" y="637.90" width="5.60" height="10.00" fill="#fff" stroke="#666" stroke-width="0.7"/>
<text transform="translate(408.90 645.42) scale(0.8200 1)" font-size="7" font-weight="bold" text-anchor="middle">9</text>
<rect x="425.70" y="629.70" width="9.00" height="10.00" fill="#fff" stroke="#666" stroke-width="0.7"/>
<text transform="translate(430.20 637.22) scale(0.8200 1)" font-size="7" font-weight="bold" text-anchor="middle">12</text>
<rect x="444.50" y="643.00" width="14.00" height="10.00" fill="#fff" stroke="#666" stroke-width="0.7"/>
<text transform="translate(451.50 650.52) scale(0.8200 1)" font-size="7" font-weight="bold" text-anchor="middle">6.33</text>
<rect x="464.20" y="591.75" width="18.00" height="9.70" fill="#fff" stroke="#666" stroke-width="0.7"/>
<text transform="translate(473.20 599.12) scale(0.8200 1)" font-size="7" font-weight="bold" text-anchor="middle">33.33</text>
<rect x="490.40" y="636.45" width="9.00" height="9.50" fill="#fff" stroke="#666" stroke-width="0.7"/>
<text transform="translate(494.90 643.72) scale(0.8200 1)" font-size="7" font-weight="bold" text-anchor="middle">10</text>
<rect x="508.50" y="654.35" width="15.00" height="9.50" fill="#fff" stroke="#666" stroke-width="0.7"/>
<text transform="translate(516.00 661.62) scale(0.8200 1)" font-size="7" font-weight="bold" text-anchor="middle">6.67</text>
<rect x="529.55" y="667.90" width="15.50" height="9.20" fill="#fff" stroke="#666" stroke-width="0.7"/>
<text transform="translate(537.30 675.02) scale(0.8200 1)" font-size="7" font-weight="bold" text-anchor="middle">2.33</text>
<rect x="552.15" y="638.45" width="14.50" height="9.50" fill="#fff" stroke="#666" stroke-width="0.7"/>
<text transform="translate(559.40 645.72) scale(0.8200 1)" font-size="7" font-weight="bold" text-anchor="middle">9.67</text>
<rect x="573.15" y="645.45" width="14.30" height="9.70" fill="#fff" stroke="#666" stroke-width="0.7"/>
<text transform="translate(580.30 652.82) scale(0.8200 1)" font-size="7" font-weight="bold" text-anchor="middle">9.33</text>
<rect x="593.00" y="637.70" width="17.40" height="9.80" fill="#fff" stroke="#666" stroke-width="0.7"/>
<text transform="translate(601.70 645.12) scale(0.8200 1)" font-size="7" font-weight="bold" text-anchor="middle">11.33</text>
<rect x="615.90" y="654.85" width="14.20" height="9.70" fill="#fff" stroke="#666" stroke-width="0.7"/>
<text transform="translate(623.00 662.22) scale(0.8200 1)" font-size="7" font-weight="bold" text-anchor="middle">6.33</text>
<rect x="636.95" y="662.20" width="14.30" height="9.60" fill="#fff" stroke="#666" stroke-width="0.7"/>
<text transform="translate(644.10 669.52) scale(0.8200 1)" font-size="7" font-weight="bold" text-anchor="middle">3.67</text>
<g clip-path="url(#clip-b5)">
<path d="M409.00 647.64V674.78M407.20 647.64h3.6M407.20 674.78h3.6" stroke="#000" stroke-width="0.7" fill="none" stroke-opacity="0.7"/>
<path d="M430.47 638.76V668.00M428.67 638.76h3.6M428.67 668.00h3.6" stroke="#000" stroke-width="0.7" fill="none" stroke-opacity="0.7"/>
<path d="M451.94 652.52V683.84M450.14 652.52h3.6M450.14 683.84h3.6" stroke="#000" stroke-width="0.7" fill="none" stroke-opacity="0.7"/>
<path d="M473.41 552.29V643.12M471.61 552.29h3.6M471.61 643.12h3.6" stroke="#000" stroke-width="0.7" fill="none" stroke-opacity="0.7"/>
<path d="M494.88 645.55V671.65M493.08 645.55h3.6M493.08 671.65h3.6" stroke="#000" stroke-width="0.7" fill="none" stroke-opacity="0.7"/>
<path d="M516.35 663.38V671.21M514.55 663.38h3.6M514.55 671.21h3.6" stroke="#000" stroke-width="0.7" fill="none" stroke-opacity="0.7"/>
<path d="M537.82 677.18V680.05M536.02 677.18h3.6M536.02 680.05h3.6" stroke="#000" stroke-width="0.7" fill="none" stroke-opacity="0.7"/>
<path d="M559.29 647.19V671.73M557.49 647.19h3.6M557.49 671.73h3.6" stroke="#000" stroke-width="0.7" fill="none" stroke-opacity="0.7"/>
<path d="M580.76 654.22V666.48M578.96 654.22h3.6M578.96 666.48h3.6" stroke="#000" stroke-width="0.7" fill="none" stroke-opacity="0.7"/>
<path d="M602.23 647.30V662.96M600.43 647.30h3.6M600.43 662.96h3.6" stroke="#000" stroke-width="0.7" fill="none" stroke-opacity="0.7"/>
<path d="M623.70 664.13V672.22M621.90 664.13h3.6M621.90 672.22h3.6" stroke="#000" stroke-width="0.7" fill="none" stroke-opacity="0.7"/>
<path d="M645.17 671.21V679.04M643.37 671.21h3.6M643.37 679.04h3.6" stroke="#000" stroke-width="0.7" fill="none" stroke-opacity="0.7"/>
</g>
<rect x="606.6" y="535" width="46.00" height="13.30" fill="#fff" stroke="#555" stroke-width="0.7"/>
<rect x="608.9" y="537" width="16.10" height="9.30" fill="#e8e02c" stroke="#333" stroke-width="0.5"/>
<text transform="translate(628.00 544.96) scale(0.9064 1)" font-size="9.2">Yellow</text>
<text x="540.5" y="553" font-size="14.5" font-weight="bold">(b<tspan font-size="10.3" dy="3.7">5</tspan><tspan dy="-3.7">)</tspan></text>
<text transform="translate(526.00 732.62) scale(0.8483 1)" font-size="9.5" font-weight="bold" text-anchor="middle">Sampling location</text>
<text transform="translate(379.06 606.80) rotate(-90) scale(0.9707 1)" font-size="7.4" font-weight="bold" text-anchor="middle">Average counted microplastics ([MPs/kg]x10)</text>
</g>
<g id="b6">
<clipPath id="clip-b6"><rect x="84.4" y="734" width="270.4" height="154.5"/></clipPath>
<g clip-path="url(#clip-b6)">
<rect x="86.60" y="846.91" width="18.20" height="41.09" fill="url(#dots)" stroke="#555" stroke-width="0.6"/>
<rect x="109.10" y="849.01" width="18.20" height="38.99" fill="url(#dots)" stroke="#555" stroke-width="0.6"/>
<rect x="131.60" y="812.05" width="18.20" height="75.95" fill="url(#dots)" stroke="#555" stroke-width="0.6"/>
<rect x="154.10" y="873.65" width="18.20" height="14.35" fill="url(#dots)" stroke="#555" stroke-width="0.6"/>
<rect x="176.60" y="844.88" width="18.20" height="43.12" fill="url(#dots)" stroke="#555" stroke-width="0.6"/>
<rect x="199.10" y="867.49" width="18.20" height="20.51" fill="url(#dots)" stroke="#555" stroke-width="0.6"/>
<rect x="221.60" y="857.20" width="18.20" height="30.80" fill="url(#dots)" stroke="#555" stroke-width="0.6"/>
<rect x="244.10" y="871.55" width="18.20" height="16.45" fill="url(#dots)" stroke="#555" stroke-width="0.6"/>
<rect x="266.60" y="820.24" width="18.20" height="67.76" fill="url(#dots)" stroke="#555" stroke-width="0.6"/>
<rect x="289.10" y="803.79" width="18.20" height="84.21" fill="url(#dots)" stroke="#555" stroke-width="0.6"/>
<rect x="311.60" y="863.36" width="18.20" height="24.64" fill="url(#dots)" stroke="#555" stroke-width="0.6"/>
<rect x="334.10" y="885.97" width="18.20" height="2.03" fill="url(#dots)" stroke="#555" stroke-width="0.6"/>
</g>
<rect x="84.4" y="734" width="270.4" height="154" fill="none" stroke="#444" stroke-width="0.9"/>
<path d="M81.4 888.00h3M81.4 857.20h3M81.4 826.40h3M81.4 795.60h3M81.4 764.80h3M81.4 734.00h3M82.9 872.60h1.5M82.9 841.80h1.5M82.9 811.00h1.5M82.9 780.20h1.5M82.9 749.40h1.5M95.70 888v3.5M118.20 888v3.5M140.70 888v3.5M163.20 888v3.5M185.70 888v3.5M208.20 888v3.5M230.70 888v3.5M253.20 888v3.5M275.70 888v3.5M298.20 888v3.5M320.70 888v3.5M343.20 888v3.5" stroke="#444" stroke-width="0.9" fill="none"/>
<text transform="translate(79.40 890.81)" font-size="7.8" text-anchor="end" stroke="#000" stroke-width="0.22">0</text>
<text transform="translate(79.40 860.01)" font-size="7.8" text-anchor="end" stroke="#000" stroke-width="0.22">5</text>
<text transform="translate(79.40 829.21)" font-size="7.8" text-anchor="end" stroke="#000" stroke-width="0.22">10</text>
<text transform="translate(79.40 798.41)" font-size="7.8" text-anchor="end" stroke="#000" stroke-width="0.22">15</text>
<text transform="translate(79.40 767.61)" font-size="7.8" text-anchor="end" stroke="#000" stroke-width="0.22">20</text>
<text transform="translate(79.40 736.81)" font-size="7.8" text-anchor="end" stroke="#000" stroke-width="0.22">25</text>
<text transform="translate(99.70 902.00) rotate(-27.5)" font-size="7.6" text-anchor="end" stroke="#000" stroke-width="0.22">Pipavav</text>
<text transform="translate(122.20 902.00) rotate(-27.5)" font-size="7.6" text-anchor="end" stroke="#000" stroke-width="0.22">Diu</text>
<text transform="translate(144.70 902.00) rotate(-27.5)" font-size="7.6" text-anchor="end" stroke="#000" stroke-width="0.22">Somnath</text>
<text transform="translate(167.20 902.00) rotate(-27.5)" font-size="7.6" text-anchor="end" stroke="#000" stroke-width="0.22">Veraval</text>
<text transform="translate(189.70 902.00) rotate(-27.5)" font-size="7.6" text-anchor="end" stroke="#000" stroke-width="0.22">Adri</text>
<text transform="translate(212.20 902.00) rotate(-27.5)" font-size="7.6" text-anchor="end" stroke="#000" stroke-width="0.22">Chorwad</text>
<text transform="translate(234.70 902.00) rotate(-27.5)" font-size="7.6" text-anchor="end" stroke="#000" stroke-width="0.22">Mangrol</text>
<text transform="translate(257.20 902.00) rotate(-27.5)" font-size="7.6" text-anchor="end" stroke="#000" stroke-width="0.22">Shil</text>
<text transform="translate(279.70 902.00) rotate(-27.5)" font-size="7.6" text-anchor="end" stroke="#000" stroke-width="0.22">Madhavpur</text>
<text transform="translate(302.20 902.00) rotate(-27.5)" font-size="7.6" text-anchor="end" stroke="#000" stroke-width="0.22">Porbandar</text>
<text transform="translate(324.70 902.00) rotate(-27.5)" font-size="7.6" text-anchor="end" stroke="#000" stroke-width="0.22">Dwarka</text>
<text transform="translate(347.20 902.00) rotate(-27.5)" font-size="7.6" text-anchor="end" stroke="#000" stroke-width="0.22">Shivrajpur</text>
<rect x="85.70" y="829.40" width="20.00" height="12.00" fill="#fff" stroke="#666" stroke-width="0.7"/>
<text transform="translate(95.70 838.39) scale(1.1000 1)" font-size="8.3" font-weight="bold" text-anchor="middle">6.67</text>
<rect x="107.90" y="849.50" width="20.00" height="11.80" fill="#fff" stroke="#666" stroke-width="0.7"/>
<text transform="translate(117.90 858.39) scale(1.1000 1)" font-size="8.3" font-weight="bold" text-anchor="middle">6.33</text>
<rect x="127.90" y="819.10" width="26.00" height="12.00" fill="#fff" stroke="#666" stroke-width="0.7"/>
<text transform="translate(140.90 828.09) scale(1.1000 1)" font-size="8.3" font-weight="bold" text-anchor="middle">12.33</text>
<rect x="153.35" y="847.75" width="19.70" height="12.30" fill="#fff" stroke="#666" stroke-width="0.7"/>
<text transform="translate(163.20 856.89) scale(1.0834 1)" font-size="8.3" font-weight="bold" text-anchor="middle">2.33</text>
<rect x="181.95" y="850.30" width="7.70" height="12.00" fill="#fff" stroke="#666" stroke-width="0.7"/>
<text transform="translate(185.80 859.29) scale(1.1000 1)" font-size="8.3" font-weight="bold" text-anchor="middle">7</text>
<rect x="198.40" y="868.20" width="19.20" height="12.00" fill="#fff" stroke="#666" stroke-width="0.7"/>
<text transform="translate(208.00 877.19) scale(1.0525 1)" font-size="8.3" font-weight="bold" text-anchor="middle">3.33</text>
<rect x="227.65" y="858.70" width="7.10" height="12.00" fill="#fff" stroke="#666" stroke-width="0.7"/>
<text transform="translate(231.20 867.69) scale(1.0616 1)" font-size="8.3" font-weight="bold" text-anchor="middle">5</text>
<rect x="242.90" y="872.00" width="21.00" height="12.00" fill="#fff" stroke="#666" stroke-width="0.7"/>
<text transform="translate(253.40 880.99) scale(1.1000 1)" font-size="8.3" font-weight="bold" text-anchor="middle">2.67</text>
<rect x="269.70" y="825.30" width="12.80" height="12.20" fill="#fff" stroke="#666" stroke-width="0.7"/>
<text transform="translate(276.10 834.39) scale(1.1000 1)" font-size="8.3" font-weight="bold" text-anchor="middle">11</text>
<rect x="285.80" y="820.85" width="24.80" height="12.30" fill="#fff" stroke="#666" stroke-width="0.7"/>
<text transform="translate(298.20 829.99) scale(1.0882 1)" font-size="8.3" font-weight="bold" text-anchor="middle">13.67</text>
<rect x="317.70" y="869.70" width="7.00" height="12.00" fill="#fff" stroke="#666" stroke-width="0.7"/>
<text transform="translate(321.20 878.69) scale(1.0400 1)" font-size="8.3" font-weight="bold" text-anchor="middle">4</text>
<rect x="334.40" y="871.95" width="19.80" height="12.10" fill="#fff" stroke="#666" stroke-width="0.7"/>
<text transform="translate(344.30 880.99) scale(1.0896 1)" font-size="8.3" font-weight="bold" text-anchor="middle">0.33</text>
<g clip-path="url(#clip-b6)">
<path d="M95.70 839.83V854.00M93.90 839.83h3.6M93.90 854.00h3.6" stroke="#000" stroke-width="0.7" fill="none" stroke-opacity="0.7"/>
<path d="M118.20 820.98V877.04M116.40 820.98h3.6M116.40 877.04h3.6" stroke="#000" stroke-width="0.7" fill="none" stroke-opacity="0.7"/>
<path d="M140.70 764.92V859.17M138.90 764.92h3.6M138.90 859.17h3.6" stroke="#000" stroke-width="0.7" fill="none" stroke-opacity="0.7"/>
<path d="M163.20 858.25V888.00M161.40 858.25h3.6" stroke="#000" stroke-width="0.7" fill="none" stroke-opacity="0.7"/>
<path d="M185.70 828.56V861.20M183.90 828.56h3.6M183.90 861.20h3.6" stroke="#000" stroke-width="0.7" fill="none" stroke-opacity="0.7"/>
<path d="M208.20 852.09V882.89M206.40 852.09h3.6M206.40 882.89h3.6" stroke="#000" stroke-width="0.7" fill="none" stroke-opacity="0.7"/>
<path d="M230.70 844.88V869.52M228.90 844.88h3.6M228.90 869.52h3.6" stroke="#000" stroke-width="0.7" fill="none" stroke-opacity="0.7"/>
<path d="M253.20 862.00V881.10M251.40 862.00h3.6M251.40 881.10h3.6" stroke="#000" stroke-width="0.7" fill="none" stroke-opacity="0.7"/>
<path d="M275.70 798.06V842.42M273.90 798.06h3.6M273.90 842.42h3.6" stroke="#000" stroke-width="0.7" fill="none" stroke-opacity="0.7"/>
<path d="M298.20 762.83V844.76M296.40 762.83h3.6M296.40 844.76h3.6" stroke="#000" stroke-width="0.7" fill="none" stroke-opacity="0.7"/>
<path d="M320.70 852.89V873.83M318.90 852.89h3.6M318.90 873.83h3.6" stroke="#000" stroke-width="0.7" fill="none" stroke-opacity="0.7"/>
<path d="M343.20 882.58V888.00M341.40 882.58h3.6" stroke="#000" stroke-width="0.7" fill="none" stroke-opacity="0.7"/>
</g>
<rect x="273" y="736.4" width="74.60" height="12.00" fill="#fff" stroke="#555" stroke-width="0.7"/>
<rect x="275.6" y="738.4" width="19.20" height="8.00" fill="url(#dots)" stroke="#333" stroke-width="0.5"/>
<text transform="translate(298.60 745.57) scale(0.9912 1)" font-size="8.8">Transparent</text>
<text x="205" y="776.4" font-size="14.5" font-weight="bold">(b<tspan font-size="10.3" dy="3.7">6</tspan><tspan dy="-3.7">)</tspan></text>
<text transform="translate(214.00 936.52) scale(0.9412 1)" font-size="9.5" font-weight="bold" text-anchor="middle">Sampling location</text>
<text transform="translate(66.41 811.70) rotate(-90) scale(1.0170 1)" font-size="7.8" text-anchor="middle" stroke="#000" stroke-width="0.22">Average counted microplastics ([MPs/kg]x10)</text>
</g>
<g id="b7">
<clipPath id="clip-b7"><rect x="400.5" y="736.9" width="262.29999999999995" height="156.5"/></clipPath>
<g clip-path="url(#clip-b7)">
<rect x="402.30" y="837.36" width="17.40" height="55.54" fill="#e02f22" stroke="#e02f22" stroke-width="0.6"/>
<rect x="424.10" y="823.64" width="17.40" height="69.26" fill="#e02f22" stroke="#e02f22" stroke-width="0.6"/>
<rect x="445.90" y="844.44" width="17.40" height="48.46" fill="#e02f22" stroke="#e02f22" stroke-width="0.6"/>
<rect x="467.70" y="858.16" width="17.40" height="34.74" fill="#e02f22" stroke="#e02f22" stroke-width="0.6"/>
<rect x="489.50" y="837.36" width="17.40" height="55.54" fill="#e02f22" stroke="#e02f22" stroke-width="0.6"/>
<rect x="511.30" y="851.30" width="17.40" height="41.60" fill="#e02f22" stroke="#e02f22" stroke-width="0.6"/>
<rect x="533.10" y="872.10" width="17.40" height="20.80" fill="#e02f22" stroke="#e02f22" stroke-width="0.6"/>
<rect x="554.90" y="872.10" width="17.40" height="20.80" fill="#e02f22" stroke="#e02f22" stroke-width="0.6"/>
<rect x="576.70" y="851.30" width="17.40" height="41.60" fill="#e02f22" stroke="#e02f22" stroke-width="0.6"/>
<rect x="620.30" y="858.16" width="17.40" height="34.74" fill="#e02f22" stroke="#e02f22" stroke-width="0.6"/>
<rect x="642.10" y="886.04" width="17.40" height="6.86" fill="#e02f22" stroke="#e02f22" stroke-width="0.6"/>
</g>
<rect x="400.5" y="736.9" width="262.29999999999995" height="156.0" fill="none" stroke="#444" stroke-width="0.9"/>
<path d="M397.5 892.90h3M397.5 861.70h3M397.5 830.50h3M397.5 799.30h3M397.5 768.10h3M397.5 736.90h3M399.0 877.30h1.5M399.0 846.10h1.5M399.0 814.90h1.5M399.0 783.70h1.5M399.0 752.50h1.5M411.00 892.9v3.5M432.80 892.9v3.5M454.60 892.9v3.5M476.40 892.9v3.5M498.20 892.9v3.5M520.00 892.9v3.5M541.80 892.9v3.5M563.60 892.9v3.5M585.40 892.9v3.5M607.20 892.9v3.5M629.00 892.9v3.5M650.80 892.9v3.5" stroke="#444" stroke-width="0.9" fill="none"/>
<text transform="translate(395.50 895.71) scale(0.9000 1)" font-size="7.8" font-weight="bold" text-anchor="end">0.0</text>
<text transform="translate(395.50 864.51) scale(0.9000 1)" font-size="7.8" font-weight="bold" text-anchor="end">1.5</text>
<text transform="translate(395.50 833.31) scale(0.9000 1)" font-size="7.8" font-weight="bold" text-anchor="end">3.0</text>
<text transform="translate(395.50 802.11) scale(0.9000 1)" font-size="7.8" font-weight="bold" text-anchor="end">4.5</text>
<text transform="translate(395.50 770.91) scale(0.9000 1)" font-size="7.8" font-weight="bold" text-anchor="end">6.0</text>
<text transform="translate(395.50 739.71) scale(0.9000 1)" font-size="7.8" font-weight="bold" text-anchor="end">7.5</text>
<text transform="translate(415.00 907.40) rotate(-28) scale(0.9500 1)" font-size="7.5" font-weight="bold" text-anchor="end">Pipavav</text>
<text transform="translate(436.80 907.40) rotate(-28) scale(0.9500 1)" font-size="7.5" font-weight="bold" text-anchor="end">Diu</text>
<text transform="translate(458.60 907.40) rotate(-28) scale(0.9500 1)" font-size="7.5" font-weight="bold" text-anchor="end">Somnath</text>
<text transform="translate(480.40 907.40) rotate(-28) scale(0.9500 1)" font-size="7.5" font-weight="bold" text-anchor="end">Veraval</text>
<text transform="translate(502.20 907.40) rotate(-28) scale(0.9500 1)" font-size="7.5" font-weight="bold" text-anchor="end">Adri</text>
<text transform="translate(524.00 907.40) rotate(-28) scale(0.9500 1)" font-size="7.5" font-weight="bold" text-anchor="end">Chorwad</text>
<text transform="translate(545.80 907.40) rotate(-28) scale(0.9500 1)" font-size="7.5" font-weight="bold" text-anchor="end">Mangrol</text>
<text transform="translate(567.60 907.40) rotate(-28) scale(0.9500 1)" font-size="7.5" font-weight="bold" text-anchor="end">Shil</text>
<text transform="translate(589.40 907.40) rotate(-28) scale(0.9500 1)" font-size="7.5" font-weight="bold" text-anchor="end">Madhavpur</text>
<text transform="translate(611.20 907.40) rotate(-28) scale(0.9500 1)" font-size="7.5" font-weight="bold" text-anchor="end">Porbandar</text>
<text transform="translate(633.00 907.40) rotate(-28) scale(0.9500 1)" font-size="7.5" font-weight="bold" text-anchor="end">Dwarka</text>
<text transform="translate(654.80 907.40) rotate(-28) scale(0.9500 1)" font-size="7.5" font-weight="bold" text-anchor="end">Shivrajpur</text>
<rect x="401.95" y="836.25" width="18.70" height="12.70" fill="#fff" stroke="#666" stroke-width="0.7"/>
<text transform="translate(411.30 845.98) scale(0.9000 1)" font-size="9.4" font-weight="bold" text-anchor="middle">2.67</text>
<rect x="423.50" y="821.70" width="18.40" height="12.80" fill="#fff" stroke="#666" stroke-width="0.7"/>
<text transform="translate(432.70 831.48) scale(0.8856 1)" font-size="9.4" font-weight="bold" text-anchor="middle">3.33</text>
<rect x="445.65" y="843.90" width="18.70" height="12.80" fill="#fff" stroke="#666" stroke-width="0.7"/>
<text transform="translate(455.00 853.68) scale(0.9000 1)" font-size="9.4" font-weight="bold" text-anchor="middle">2.33</text>
<rect x="467.40" y="865.10" width="18.40" height="12.80" fill="#fff" stroke="#666" stroke-width="0.7"/>
<text transform="translate(476.60 874.88) scale(0.8856 1)" font-size="9.4" font-weight="bold" text-anchor="middle">1.67</text>
<rect x="489.60" y="852.85" width="18.20" height="12.70" fill="#fff" stroke="#666" stroke-width="0.7"/>
<text transform="translate(498.70 862.58) scale(0.8746 1)" font-size="9.4" font-weight="bold" text-anchor="middle">2.67</text>
<rect x="516.70" y="854.15" width="7.00" height="12.70" fill="#fff" stroke="#666" stroke-width="0.7"/>
<text transform="translate(520.20 863.88) scale(0.9000 1)" font-size="9.4" font-weight="bold" text-anchor="middle">2</text>
<rect x="538.40" y="870.50" width="7.00" height="13.00" fill="#fff" stroke="#666" stroke-width="0.7"/>
<text transform="translate(541.90 880.38) scale(0.9000 1)" font-size="9.4" font-weight="bold" text-anchor="middle">1</text>
<rect x="560.00" y="873.35" width="6.80" height="12.30" fill="#fff" stroke="#666" stroke-width="0.7"/>
<text transform="translate(563.40 882.88) scale(0.8800 1)" font-size="9.4" font-weight="bold" text-anchor="middle">1</text>
<rect x="581.90" y="856.55" width="7.00" height="12.50" fill="#fff" stroke="#666" stroke-width="0.7"/>
<text transform="translate(585.40 866.18) scale(0.9000 1)" font-size="9.4" font-weight="bold" text-anchor="middle">2</text>
<rect x="619.30" y="868.20" width="19.00" height="13.00" fill="#fff" stroke="#666" stroke-width="0.7"/>
<text transform="translate(628.80 878.08) scale(0.9000 1)" font-size="9.4" font-weight="bold" text-anchor="middle">1.67</text>
<rect x="641.45" y="875.00" width="18.70" height="13.00" fill="#fff" stroke="#666" stroke-width="0.7"/>
<text transform="translate(650.80 884.88) scale(0.9000 1)" font-size="9.4" font-weight="bold" text-anchor="middle">0.33</text>
<g clip-path="url(#clip-b7)">
<path d="M411.00 789.52V885.20M409.20 789.52h3.6M409.20 885.20h3.6" stroke="#000" stroke-width="0.7" fill="none" stroke-opacity="0.65"/>
<path d="M432.80 763.32V883.96M431.00 763.32h3.6M431.00 883.96h3.6" stroke="#000" stroke-width="0.7" fill="none" stroke-opacity="0.65"/>
<path d="M454.60 792.44V892.90M452.80 792.44h3.6" stroke="#000" stroke-width="0.7" fill="none" stroke-opacity="0.65"/>
<path d="M476.40 826.34V889.99M474.60 826.34h3.6M474.60 889.99h3.6" stroke="#000" stroke-width="0.7" fill="none" stroke-opacity="0.65"/>
<path d="M498.20 825.30V849.43M496.40 825.30h3.6M496.40 849.43h3.6" stroke="#000" stroke-width="0.7" fill="none" stroke-opacity="0.65"/>
<path d="M520.00 830.50V872.10M518.20 830.50h3.6M518.20 872.10h3.6" stroke="#000" stroke-width="0.7" fill="none" stroke-opacity="0.65"/>
<path d="M541.80 851.30V892.90M540.00 851.30h3.6" stroke="#000" stroke-width="0.7" fill="none" stroke-opacity="0.65"/>
<path d="M563.60 851.30V892.90M561.80 851.30h3.6" stroke="#000" stroke-width="0.7" fill="none" stroke-opacity="0.65"/>
<path d="M585.40 830.50V872.10M583.60 830.50h3.6M583.60 872.10h3.6" stroke="#000" stroke-width="0.7" fill="none" stroke-opacity="0.65"/>
<path d="M629.00 834.66V881.67M627.20 834.66h3.6M627.20 881.67h3.6" stroke="#000" stroke-width="0.7" fill="none" stroke-opacity="0.65"/>
<path d="M650.80 874.18V892.90M649.00 874.18h3.6" stroke="#000" stroke-width="0.7" fill="none" stroke-opacity="0.65"/>
</g>
<rect x="622.4" y="763.4" width="38.30" height="12.80" fill="#fff" stroke="#555" stroke-width="0.7"/>
<rect x="624.2" y="765.4" width="17.90" height="8.80" fill="#e02f22" stroke="#333" stroke-width="0.5"/>
<text transform="translate(644.60 772.97) scale(0.9168 1)" font-size="8.8">Red</text>
<text x="535.3" y="781" font-size="14.5" font-weight="bold">(b<tspan font-size="10.3" dy="3.7">7</tspan><tspan dy="-3.7">)</tspan></text>
<text transform="translate(530.80 944.22) scale(0.8868 1)" font-size="9.5" font-weight="bold" text-anchor="middle">Sample location</text>
<text transform="translate(379.14 814.40) rotate(-90) scale(0.9817 1)" font-size="7.6" font-weight="bold" text-anchor="middle">Average counted microplastics ([MPs/kg]x10)</text>
</g>
<polygon points="39.84,29.67 32.00,40.47 19.30,44.60 6.60,40.47 -1.24,29.67 -1.24,16.33 6.60,5.53 19.30,1.40 32.00,5.53 39.84,16.33" fill="#000"/>
<text transform="translate(19.30 29.30)" font-size="20" font-weight="bold" text-anchor="middle" fill="#fff">a</text>
<polygon points="646.77,102.05 640.59,110.55 630.60,113.80 620.61,110.55 614.43,102.05 614.43,91.55 620.61,83.05 630.60,79.80 640.59,83.05 646.77,91.55" fill="#000"/>
<text transform="translate(630.60 103.30)" font-size="19" font-weight="bold" text-anchor="middle" fill="#fff">b</text>
</svg>
</body></html>
